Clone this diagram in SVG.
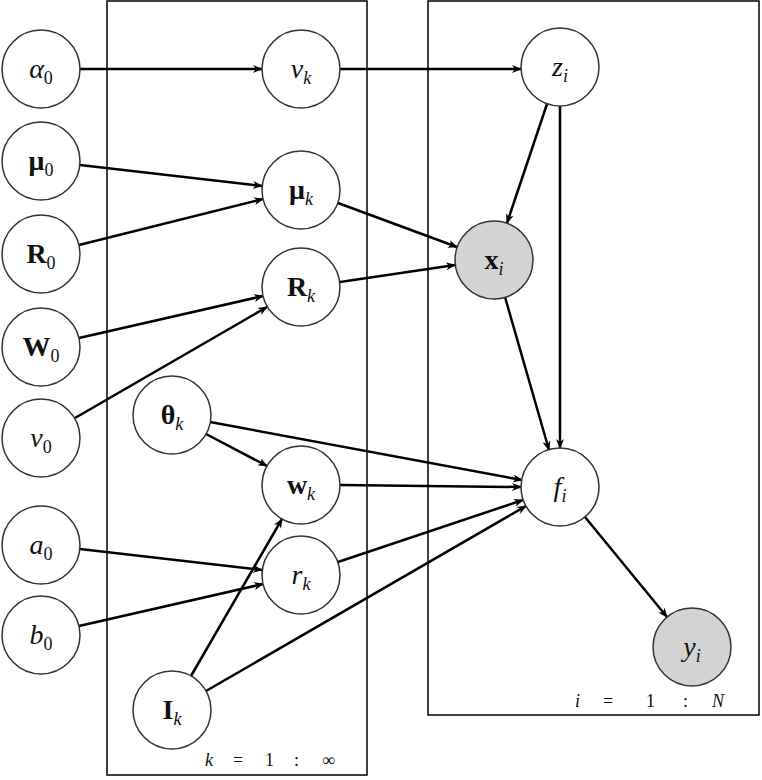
<svg xmlns="http://www.w3.org/2000/svg" width="762" height="780" viewBox="0 0 762 780">
<style>
.n{fill:#fff;stroke:#333;stroke-width:1.5}
.g{fill:#d3d3d3}
.t{font-family:"Liberation Serif",serif;font-size:28px;font-style:italic;text-anchor:middle;fill:#111}
.b{font-style:normal;font-weight:bold}
.s{font-size:18px;font-style:normal;font-weight:normal}
.si{font-size:18px;font-style:italic;font-weight:normal}
.e{stroke:#000;stroke-width:2.5;fill:none;marker-end:url(#a)}
.p{fill:none;stroke:#000;stroke-width:1.5}
.l{font-family:"Liberation Serif",serif;font-size:18px;font-style:italic;fill:#111}
</style>
<defs><marker id="a" markerWidth="10" markerHeight="8" refX="9" refY="4" orient="auto" markerUnits="userSpaceOnUse"><path d="M0,0 L10,4 L0,8 L3,4 z" fill="#000"/></marker></defs>
<rect class="p" x="107" y="1" width="260" height="774"/>
<rect class="p" x="428" y="1" width="331" height="714"/>
<text class="l" x="205" y="766">k<tspan x="233" font-style="normal">=</tspan><tspan x="265" font-style="normal">1</tspan><tspan x="294" font-style="normal">:</tspan><tspan x="322" font-style="normal">∞</tspan></text>
<text class="l" x="575" y="707">i<tspan x="603" font-style="normal">=</tspan><tspan x="646" font-style="normal">1</tspan><tspan x="683" font-style="normal">:</tspan><tspan x="712">N</tspan></text>
<g id="edges">
<path class="e" d="M80,69 L262,69"/>
<path class="e" d="M340,69 L521,69"/>
<path class="e" d="M80,165 L262,186"/>
<path class="e" d="M79,245 L263,199"/>
<path class="e" d="M79,338 L263,296"/>
<path class="e" d="M75,418 L267,307"/>
<path class="e" d="M338,203 L457,247"/>
<path class="e" d="M340,282 L455,265"/>
<path class="e" d="M547,104 L507,223"/>
<path class="e" d="M560,106 L560,448"/>
<path class="e" d="M505,297 L549,450"/>
<path class="e" d="M206,434 L267,466"/>
<path class="e" d="M210,422 L522,480"/>
<path class="e" d="M340,485 L521,487"/>
<path class="e" d="M338,562 L523,500"/>
<path class="e" d="M206,691 L526,506"/>
<path class="e" d="M191,676 L282,519"/>
<path class="e" d="M80,549 L262,570"/>
<path class="e" d="M79,626 L263,584"/>
<path class="e" d="M585,517 L667,617"/>
</g>
<g id="alpha0"><circle class="n" cx="41" cy="69" r="39"/><text class="t" x="41" y="78">α<tspan class="s" dy="6">0</tspan></text></g>
<g id="mu0"><circle class="n" cx="41" cy="161" r="39"/><text class="t b" x="41" y="170">μ<tspan class="s" dy="6">0</tspan></text></g>
<g id="R0"><circle class="n" cx="41" cy="254" r="39"/><text class="t b" x="41" y="263">R<tspan class="s" dy="6">0</tspan></text></g>
<g id="W0"><circle class="n" cx="41" cy="347" r="39"/><text class="t b" x="41" y="356">W<tspan class="s" dy="6">0</tspan></text></g>
<g id="nu0"><circle class="n" cx="41" cy="438" r="39"/><text class="t" x="41" y="447">ν<tspan class="s" dy="6">0</tspan></text></g>
<g id="a0"><circle class="n" cx="41" cy="545" r="39"/><text class="t" x="41" y="554">a<tspan class="s" dy="6">0</tspan></text></g>
<g id="b0"><circle class="n" cx="41" cy="635" r="39"/><text class="t" x="41" y="644">b<tspan class="s" dy="6">0</tspan></text></g>
<g id="nuk"><circle class="n" cx="301" cy="69" r="39"/><text class="t" x="301" y="78">ν<tspan class="si" dy="6">k</tspan></text></g>
<g id="muk"><circle class="n" cx="301" cy="190" r="39"/><text class="t b" x="301" y="199">μ<tspan class="si" dy="6">k</tspan></text></g>
<g id="Rk"><circle class="n" cx="301" cy="287" r="39"/><text class="t b" x="301" y="296">R<tspan class="si" dy="6">k</tspan></text></g>
<g id="thetak"><circle class="n" cx="172" cy="415" r="39"/><text class="t b" x="172" y="424">θ<tspan class="si" dy="6">k</tspan></text></g>
<g id="wk"><circle class="n" cx="301" cy="485" r="39"/><text class="t b" x="301" y="494">w<tspan class="si" dy="6">k</tspan></text></g>
<g id="rk"><circle class="n" cx="301" cy="575" r="39"/><text class="t" x="301" y="584">r<tspan class="si" dy="6">k</tspan></text></g>
<g id="Ik"><circle class="n" cx="172" cy="710" r="39"/><text class="t b" x="172" y="719">I<tspan class="si" dy="6">k</tspan></text></g>
<g id="zi"><circle class="n" cx="560" cy="67" r="39"/><text class="t" x="560" y="76">z<tspan class="si" dy="6">i</tspan></text></g>
<g id="xi"><circle class="n g" cx="494" cy="260" r="39"/><text class="t b" x="494" y="269">x<tspan class="si" dy="6">i</tspan></text></g>
<g id="fi"><circle class="n" cx="560" cy="487" r="39"/><text class="t" x="560" y="496">f<tspan class="si" dy="6">i</tspan></text></g>
<g id="yi"><circle class="n g" cx="692" cy="647" r="39"/><text class="t" x="692" y="656">y<tspan class="si" dy="6">i</tspan></text></g>
</svg>
